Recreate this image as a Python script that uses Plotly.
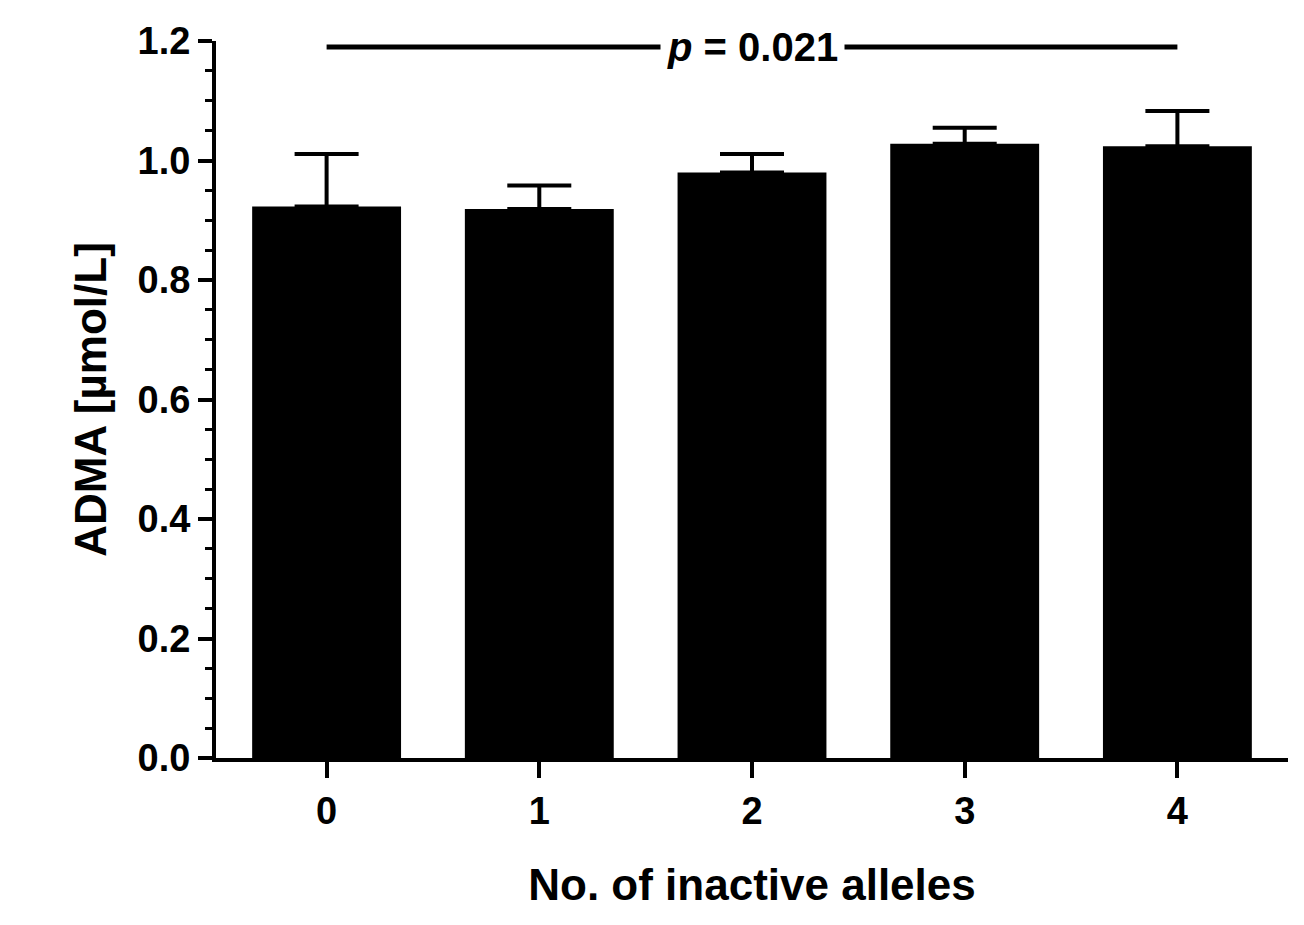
import plotly.graph_objects as go

alleles = [0, 1, 2, 3, 4]
adma_mean = [0.923, 0.919, 0.980, 1.028, 1.024]
adma_err = [0.088, 0.039, 0.031, 0.027, 0.059]
p_label = "<b><i>p</i> = 0.021</b>"

font = dict(family="Liberation Sans, Arial", color="black")

fig = go.Figure(go.Bar(
    x=alleles, y=adma_mean, width=0.7,
    marker=dict(color="black", line=dict(width=0)),
    error_y=dict(type="data", symmetric=False, array=adma_err, arrayminus=[0] * 5,
                 color="black", thickness=4, width=32),
))

# significance bracket
fig.add_shape(type="line", x0=alleles[0], x1=alleles[-1], y0=1.19, y1=1.19,
              xref="x", yref="y", line=dict(color="black", width=5))
fig.add_annotation(x=2, y=1.19, text=p_label, showarrow=False, bgcolor="white",
                   font=dict(size=40, **font), borderpad=6, xref="x", yref="y")

fig.update_layout(
    width=1304, height=925, plot_bgcolor="white", paper_bgcolor="white",
    margin=dict(l=208, r=24, t=22, b=175), showlegend=False,
    font=dict(size=38, **font),
)
fig.update_xaxes(
    range=[-0.52, 4.52], tickvals=alleles, ticktext=[f"<b>{a}</b>" for a in alleles],
    tickfont=dict(size=38, **font),
    showline=True, linecolor="black", linewidth=4, ticks="outside", ticklen=16,
    tickwidth=4, tickcolor="black", showgrid=False, zeroline=False,
    title=dict(text="<b>No. of inactive alleles</b>", font=dict(size=44, **font), standoff=40),
)
fig.update_yaxes(
    range=[0, 1.2], dtick=0.2, tickformat=".1f", showline=True, linecolor="black",
    linewidth=4, ticks="outside", ticklen=14, tickwidth=4, tickcolor="black",
    minor=dict(dtick=0.05, ticks="outside", ticklen=7, tickwidth=3, tickcolor="black"),
    showgrid=False, zeroline=False, tickfont=dict(size=38, **font),
    tickprefix="<b>", ticksuffix="</b>",
    title=dict(text="<b>ADMA [µmol/L]</b>", font=dict(size=44, **font), standoff=18),
)

fig.write_html("out.html")
